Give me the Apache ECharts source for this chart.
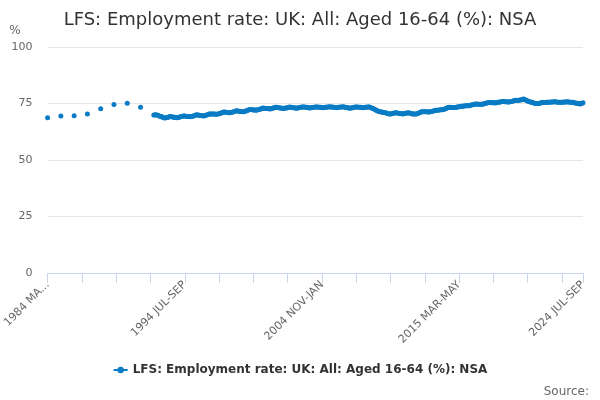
<!DOCTYPE html>
<html>
<head>
<meta charset="utf-8">
<script src="https://cdn.jsdelivr.net/npm/echarts@6/dist/echarts.min.js"></script>
<style>
html, body { margin: 0; padding: 0; background: #fff; }
#chart { width: 600px; height: 400px; }
</style>
</head>
<body>
<div id="chart"></div>
<script>
// rolling 3 month periods, each year block starts at MAR-MAY
const periods = ['MAR-MAY', 'APR-JUN', 'MAY-JUL', 'JUN-AUG', 'JUL-SEP', 'AUG-OCT',
    'SEP-NOV', 'OCT-DEC', 'NOV-JAN', 'DEC-FEB', 'JAN-MAR', 'FEB-APR']
const firstYear = 1984
const lastYear = 2024
const lastPeriodIdx = 4 // JUL-SEP

// annual MAR-MAY estimates 1984 - 1991
const annualYears = [1984, 1985, 1986, 1987, 1988, 1989, 1990, 1991]
const annualValues = [68.7, 69.5, 69.6, 70.4, 72.7, 74.6, 75.1, 73.3]

// monthly rolling quarter values from 1992 MAR-MAY
const monthlyStart = 1992
const monthlyValues = [
    69.9, 69.9, 70.0, 69.9, 69.7, 69.5, 69.3, 69.2, 68.9, 68.7, 68.6, 68.7,
    68.8, 68.9, 69.1, 69.2, 69.1, 69.0, 68.9, 68.9, 68.8, 68.7, 68.8, 68.9,
    69.1, 69.2, 69.4, 69.5, 69.5, 69.4, 69.3, 69.3, 69.2, 69.1, 69.2, 69.4,
    69.5, 69.7, 69.9, 70.0, 69.9, 69.8, 69.7, 69.7, 69.6, 69.5, 69.6, 69.8,
    69.9, 70.1, 70.3, 70.4, 70.4, 70.3, 70.3, 70.3, 70.2, 70.2, 70.3, 70.5,
    70.6, 70.8, 71.0, 71.2, 71.2, 71.1, 71.0, 71.0, 70.9, 70.9, 71.0, 71.1,
    71.3, 71.5, 71.7, 71.8, 71.7, 71.6, 71.5, 71.5, 71.4, 71.4, 71.5, 71.7,
    71.8, 72.0, 72.2, 72.4, 72.3, 72.2, 72.1, 72.1, 72.1, 72.0, 72.2, 72.3,
    72.5, 72.7, 72.9, 73.0, 72.9, 72.8, 72.8, 72.8, 72.7, 72.6, 72.7, 72.9,
    73.0, 73.1, 73.3, 73.3, 73.2, 73.1, 73.0, 73.0, 72.9, 72.8, 72.9, 73.0,
    73.0, 73.1, 73.3, 73.4, 73.3, 73.2, 73.1, 73.1, 73.0, 72.9, 73.0, 73.1,
    73.2, 73.3, 73.4, 73.5, 73.4, 73.3, 73.3, 73.2, 73.1, 73.0, 73.1, 73.2,
    73.2, 73.3, 73.4, 73.5, 73.4, 73.3, 73.3, 73.3, 73.2, 73.1, 73.2, 73.3,
    73.3, 73.4, 73.5, 73.6, 73.5, 73.4, 73.3, 73.3, 73.2, 73.1, 73.2, 73.3,
    73.3, 73.4, 73.5, 73.6, 73.5, 73.3, 73.2, 73.2, 73.0, 72.9, 73.0, 73.1,
    73.1, 73.2, 73.4, 73.5, 73.4, 73.3, 73.3, 73.3, 73.2, 73.1, 73.2, 73.3,
    73.3, 73.4, 73.4, 73.4, 73.2, 73.0, 72.8, 72.6, 72.3, 72.0, 71.8, 71.6,
    71.4, 71.3, 71.2, 71.1, 71.0, 70.9, 70.8, 70.7, 70.5, 70.4, 70.4, 70.5,
    70.6, 70.7, 70.9, 70.9, 70.8, 70.7, 70.6, 70.6, 70.5, 70.4, 70.5, 70.6,
    70.7, 70.8, 70.9, 70.8, 70.7, 70.5, 70.4, 70.4, 70.3, 70.3, 70.5, 70.7,
    70.9, 71.1, 71.3, 71.4, 71.4, 71.3, 71.3, 71.3, 71.2, 71.2, 71.3, 71.5,
    71.6, 71.7, 71.9, 72.0, 72.0, 72.0, 72.1, 72.2, 72.2, 72.2, 72.4, 72.6,
    72.8, 73.0, 73.2, 73.3, 73.3, 73.2, 73.2, 73.2, 73.2, 73.2, 73.4, 73.5,
    73.6, 73.7, 73.8, 73.8, 73.9, 73.9, 74.0, 74.0, 74.0, 74.0, 74.1, 74.3,
    74.4, 74.6, 74.7, 74.8, 74.8, 74.7, 74.7, 74.7, 74.7, 74.7, 74.8, 75.0,
    75.1, 75.2, 75.3, 75.4, 75.4, 75.3, 75.3, 75.3, 75.3, 75.2, 75.4, 75.5,
    75.6, 75.7, 75.8, 75.9, 75.9, 75.8, 75.8, 75.8, 75.7, 75.7, 75.8, 75.9,
    76.0, 76.1, 76.3, 76.4, 76.4, 76.3, 76.4, 76.5, 76.6, 76.8, 77.0, 76.9,
    76.6, 76.3, 76.1, 75.9, 75.8, 75.6, 75.5, 75.3, 75.1, 75.0, 75.0, 75.0,
    75.0, 75.1, 75.3, 75.4, 75.4, 75.4, 75.4, 75.5, 75.5, 75.5, 75.6, 75.7,
    75.7, 75.7, 75.8, 75.8, 75.7, 75.6, 75.6, 75.6, 75.5, 75.5, 75.6, 75.7,
    75.7, 75.7, 75.8, 75.7, 75.6, 75.5, 75.5, 75.5, 75.3, 75.2, 75.1, 75.1,
    75.0, 74.8, 74.9, 75.1, 75.3
]

const seriesName = 'LFS: Employment rate: UK: All: Aged 16-64 (%): NSA'
const yTicks = [0, 25, 50, 75, 100]

// build category labels and aligned data
const categories = []
for (let y = firstYear; y <= lastYear; y++) {
    for (let p = 0; p < periods.length; p++) {
        if (y === lastYear && p > lastPeriodIdx) break
        categories.push(y + ' ' + periods[p])
    }
}
const data = categories.map(() => null)
annualYears.forEach((y, i) => { data[(y - firstYear) * 12] = annualValues[i] })
const offset = (monthlyStart - firstYear) * 12
monthlyValues.forEach((v, i) => { data[offset + i] = v })
const lastIdx = categories.length - 1

const chart = echarts.init(document.getElementById('chart'))
const option = {
    backgroundColor: '#fff',
    animation: false,
    textStyle: { fontFamily: 'DejaVu Sans' },
    title: [
        {
            text: seriesName,
            left: 'center',
            top: 6,
            textStyle: { fontSize: 18, fontWeight: 'normal', color: '#333' }
        },
        {
            text: 'Source:',
            right: 6,
            top: 381,
            textStyle: { fontSize: 12, fontWeight: 'normal', color: '#666' }
        }
    ],
    grid: { left: 46, right: 17, top: 47, bottom: 127, containLabel: false },
    legend: {
        bottom: 19,
        left: 'center',
        itemWidth: 14,
        itemHeight: 8,
        itemGap: 4,
        textStyle: { fontSize: 12, fontWeight: 'bold', color: '#333' },
        data: [seriesName]
    },
    xAxis: {
        type: 'category',
        data: categories,
        boundaryGap: false,
        axisLine: { lineStyle: { color: '#ccd6eb' } },
        axisTick: {
            length: 10,
            interval: (idx) => idx % 31 === 0 || idx === lastIdx,
            lineStyle: { color: '#ccd6eb' }
        },
        axisLabel: {
            interval: (idx) => idx % 124 === 0 || idx === lastIdx,
            rotate: 45,
            margin: 10,
            fontSize: 11,
            color: '#666',
            formatter: (v, idx) => idx === 0 ? v.slice(0, 7) + '...' : v
        },
        splitLine: { show: false }
    },
    yAxis: {
        type: 'value',
        min: yTicks[0],
        max: yTicks[yTicks.length - 1],
        interval: 25,
        name: '%',
        nameLocation: 'end',
        nameGap: 10,
        nameTextStyle: { fontSize: 12, color: '#666', align: 'right', padding: [0, 27, 0, 0] },
        axisLine: { show: false },
        axisTick: { show: false },
        axisLabel: { fontSize: 11, color: '#666', margin: 15 },
        splitLine: { lineStyle: { color: '#e6e6e6' } }
    },
    series: [
        {
            name: seriesName,
            type: 'line',
            data: data,
            connectNulls: false,
            showSymbol: true,
            showAllSymbol: true,
            symbol: 'circle',
            symbolSize: 5,
            color: '#0a7bc4',
            lineStyle: { width: 2, color: '#0a7bc4' },
            itemStyle: { color: '#0a7bc4' }
        }
    ]
}
chart.setOption(option)
window.addEventListener('resize', function () {
    chart.resize()
})
</script>
</body>
</html>
